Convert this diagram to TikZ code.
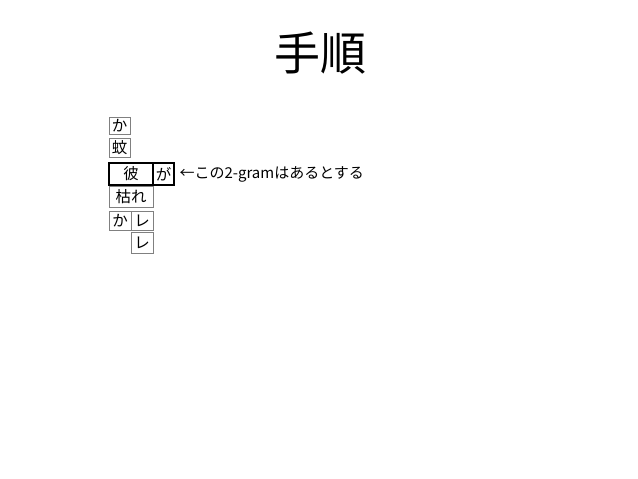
\documentclass[tikz,border=0pt]{standalone}
\usepackage{fontspec}
\setmainfont{Noto Sans CJK JP}

\begin{document}
\begin{tikzpicture}[x=1pt,y=-1pt,
  cell/.style={draw=gray, line width=0.9pt, inner sep=0pt,
    font=\fontsize{15.5}{15.5}\selectfont},
  hit/.style={cell, draw=black, line width=1.8pt}]
  \useasboundingbox (0,0) rectangle (638,479);

  % Title
  \node (title) at (320,53) {\fontsize{46}{46}\selectfont 手順};

  % First two rows: single characters
  \node[cell, minimum width=21, minimum height=17] (ka) at (119.5,125.5) {か};
  \node[cell, minimum width=21, minimum height=19] (ka2) at (119.5,147.5) {蚊};

  % Row with the known 2-gram
  \node[hit, minimum width=44, minimum height=22] (kare) at (131,174) {彼};
  \node[hit, minimum width=21, minimum height=22] (ga) at (163.5,174) {が};
  \node[anchor=west, font=\fontsize{15}{15}\selectfont] (note) at (176,174) {←この2-gramはあるとする};

  % Lower rows
  \node[cell, minimum width=44, minimum height=21] (kare2) at (131,196.5) {枯れ};
  \node[cell, minimum width=22, minimum height=19] (ka3) at (120,220.5) {か};
  \node[cell, minimum width=22, minimum height=19] (re) at (142,220.5) {レ};
  \node[cell, minimum width=22, minimum height=21] (re2) at (142,242.5) {レ};

\end{tikzpicture}
\end{document}
